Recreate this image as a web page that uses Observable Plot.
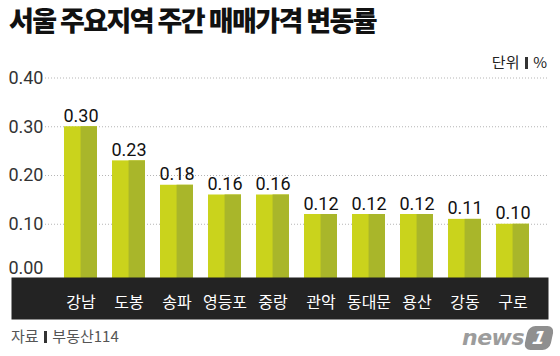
<!DOCTYPE html>
<html><head><meta charset="utf-8">
<script src="https://cdn.jsdelivr.net/npm/d3@7"></script>
<script src="https://cdn.jsdelivr.net/npm/@observablehq/plot@0.6"></script>
<style>
body{margin:0;background:#fff;}
#wrap{position:relative;width:560px;height:356px;overflow:hidden;font-family:"Noto Sans CJK KR",sans-serif;}
#chart{position:absolute;left:0;top:0;}
#title{position:absolute;left:9px;top:-2px;font-size:27px;line-height:44px;font-weight:900;letter-spacing:-1.6px;color:#111;white-space:nowrap;}
#unit{position:absolute;right:13px;top:52px;font-size:15px;line-height:20px;color:#222;white-space:nowrap;}
#src{position:absolute;left:11px;top:326px;font-size:15px;line-height:20px;color:#555;white-space:nowrap;}
.sep{display:inline-block;width:3px;height:12px;background:#333;vertical-align:-1px;margin:0 2px;}
#logo{position:absolute;left:462px;top:323px;white-space:nowrap;height:28px;}
#logo .nw{font-family:"DejaVu Sans",sans-serif;font-weight:700;font-style:italic;font-size:22px;color:#9c9c9c;letter-spacing:-0.5px;vertical-align:middle;}
#logo .one{display:inline-block;background:#8f8f8f;color:#fff;font-family:"DejaVu Sans",sans-serif;font-weight:700;font-style:italic;font-size:18px;line-height:24px;width:26px;text-align:center;border-radius:7px;transform:skewX(-12deg);vertical-align:middle;margin-left:2px;}
</style>
</head><body>
<div id="wrap">
  <div id="chart"></div>
  <div id="title">서울 주요지역 주간 매매가격 변동률</div>
  <div id="unit">단위 <span class="sep"></span> %</div>
  <div id="src">자료 <span class="sep"></span> 부동산114</div>
  <div id="logo"><span class="nw">news</span><span class="one">1</span></div>
</div>
<script>
const regions = ["강남","도봉","송파","영등포","중랑","관악","동대문","용산","강동","구로"];
const changes = [0.30,0.23,0.18,0.16,0.16,0.12,0.12,0.12,0.11,0.10];
const yTicks = [0, 0.1, 0.2, 0.3, 0.4];

const data = regions.map((r, i) => ({region: r, value: changes[i]}));

const W = 560, H = 356;
const mL = 45, mR = 12, mT = 77.5, mB = 83.5;
const pad = 0.32;
const step = (W - mL - mR) / (regions.length + pad);
const bw = step * (1 - pad);

const chart = Plot.plot({
  width: W, height: H,
  marginTop: mT, marginBottom: mB, marginLeft: mL, marginRight: mR,
  style: {fontFamily: "Roboto, 'Noto Sans CJK KR', sans-serif", background: "transparent", overflow: "visible"},
  x: {domain: regions, padding: pad, label: null},
  y: {domain: [0, 0.4], label: null},
  marks: [
    Plot.gridY(yTicks.slice(1), {stroke: "#b5b5b5", strokeOpacity: 1, strokeDasharray: "1,2"}),
    Plot.barY(data, {x: "region", y: "value", fill: "#cad31c", insetBottom: -6}),
    Plot.barY(data, {x: "region", y: "value", fill: "#a9b62a", insetLeft: bw / 2, insetBottom: -6}),
    Plot.frame({fill: "#232323", stroke: null, insetTop: (H - mT - mB) + 4.5, insetBottom: -46.5, insetLeft: -(mL - 11)}),
    Plot.text(data, {x: "region", y: "value", text: d => d.value.toFixed(2), dy: -5, lineAnchor: "bottom", fontSize: 18, fill: "#111", letterSpacing: "-0.8px"}),
    Plot.axisY(yTicks.slice(1), {tickSize: 0, tickPadding: 2, fontSize: 18, fill: "#333", tickFormat: d => d.toFixed(2), letterSpacing: "-0.8px"}),
    Plot.axisY([0], {tickSize: 0, tickPadding: 2, fontSize: 18, fill: "#333", tickFormat: d => d.toFixed(2), dy: -5, letterSpacing: "-0.8px"}),
    Plot.axisX({tickSize: 0, tickPadding: 24, fontSize: 16, fill: "#fff", fontFamily: "'Noto Sans CJK KR', sans-serif", label: null})
  ]
});
document.getElementById("chart").appendChild(chart);
</script>
</body></html>
